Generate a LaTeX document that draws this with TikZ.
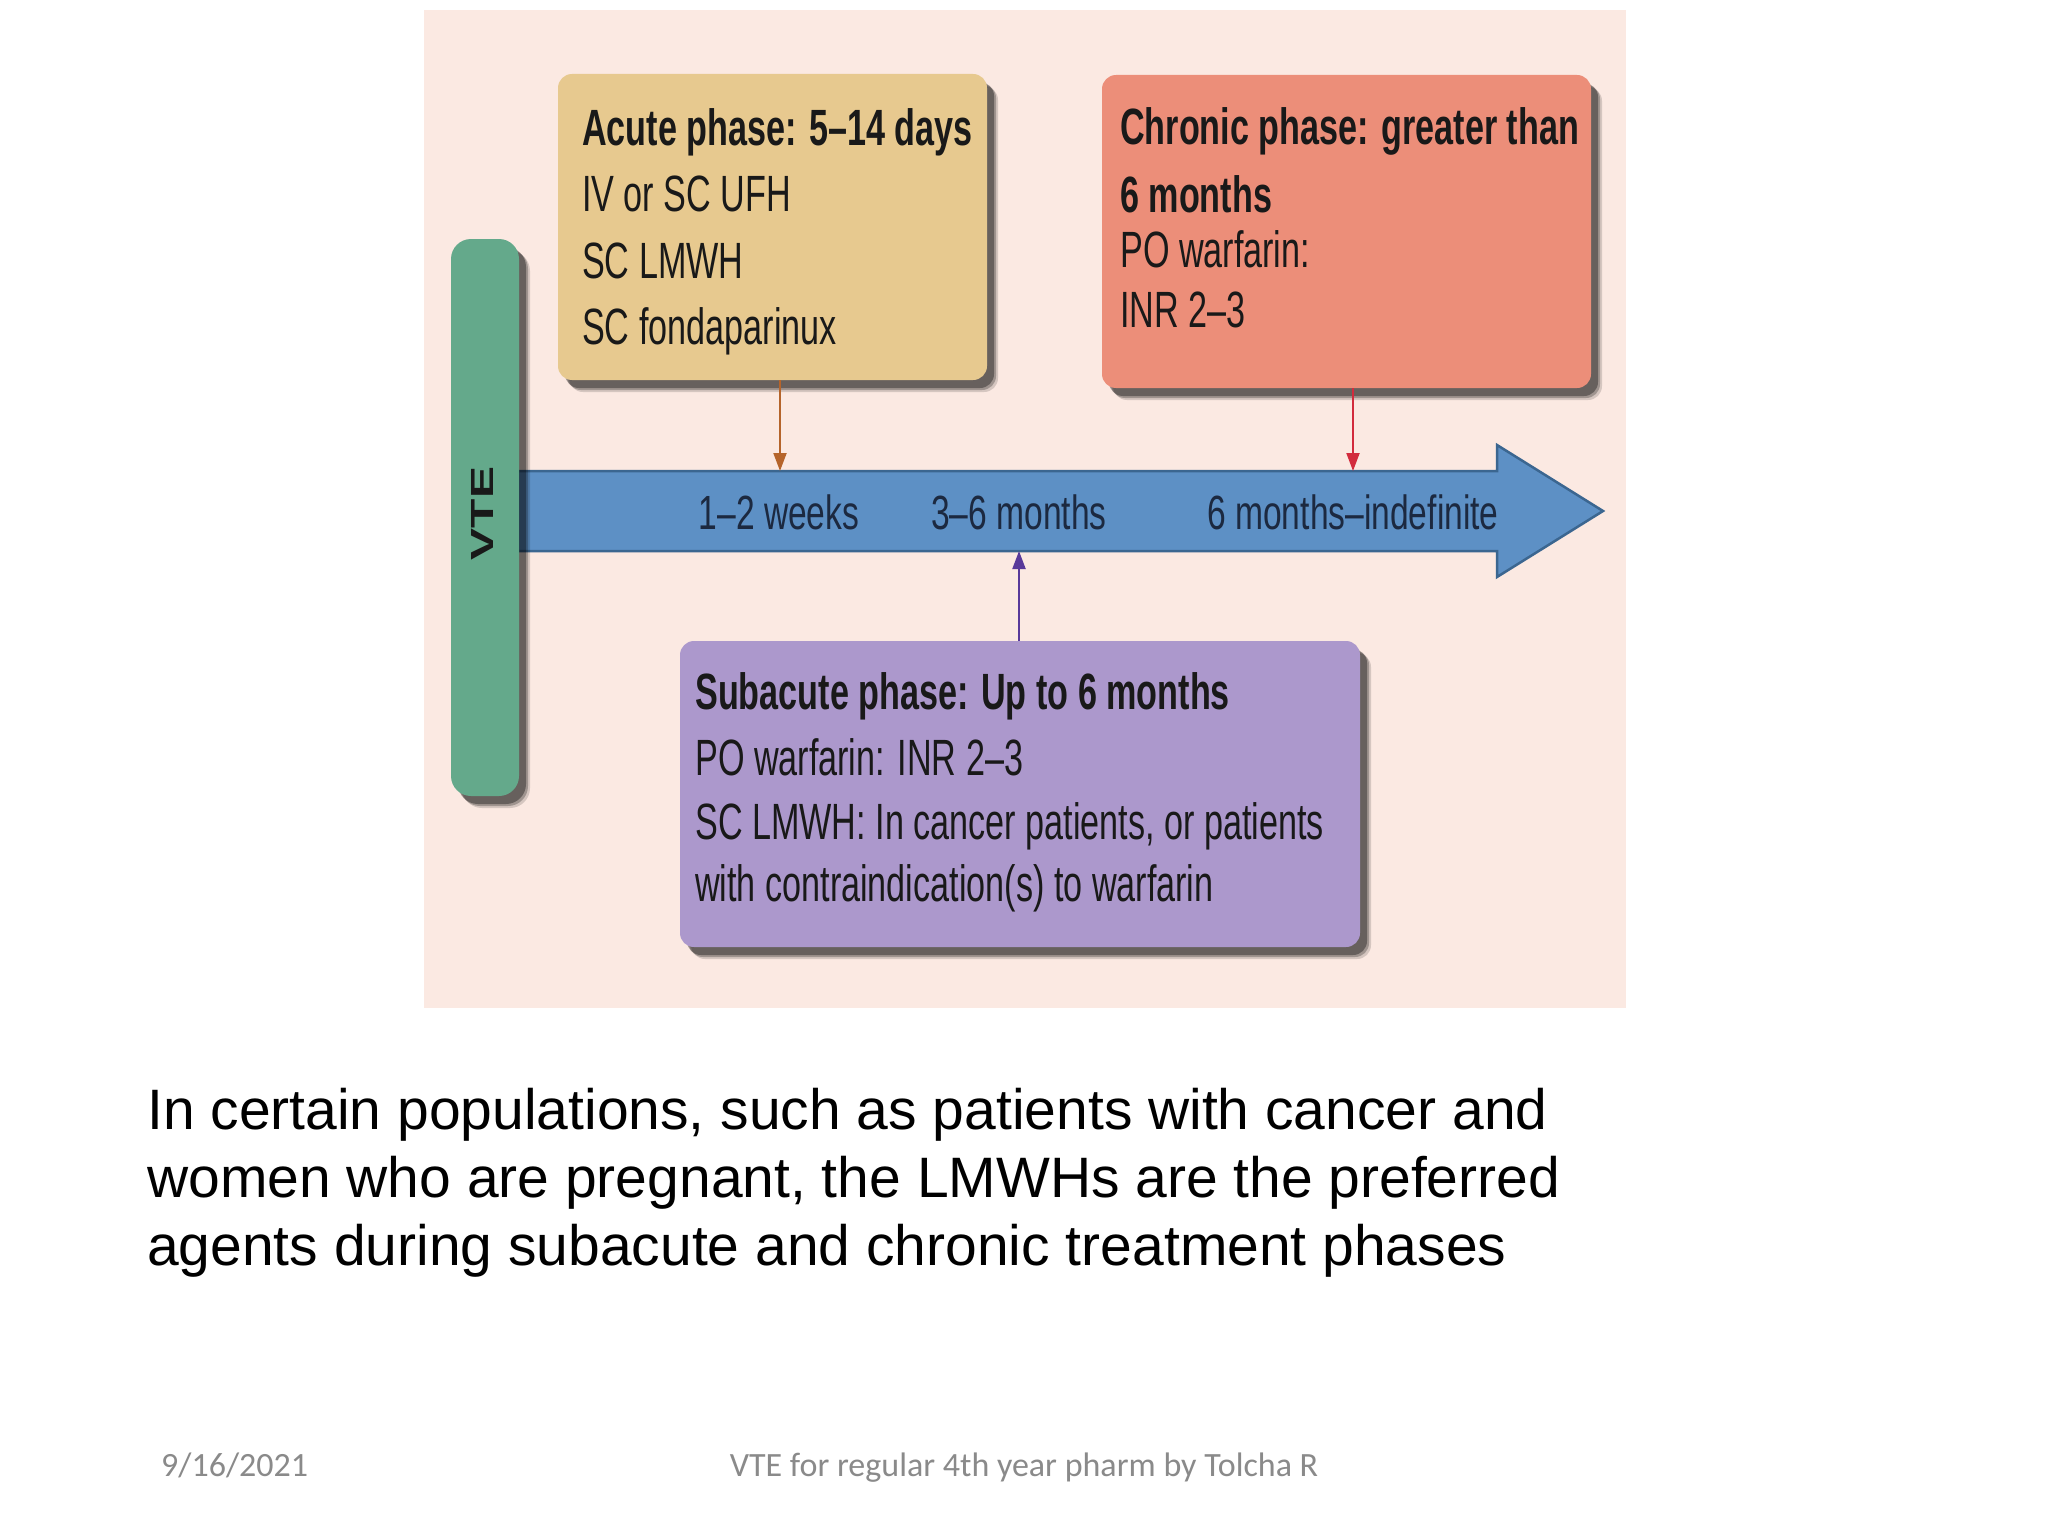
\documentclass[tikz,border=0pt]{standalone}
\usepackage{fontspec}
\setmainfont{Liberation Sans}
\newfontfamily\cond[FakeStretch=0.67]{Liberation Sans}
\newfontfamily\condt[FakeStretch=0.70]{Liberation Sans}
\newfontfamily\widev[FakeStretch=1.5]{Liberation Sans}
\newfontfamily\calib{Carlito}
\usetikzlibrary{arrows.meta,shadows}
\definecolor{bgpink}{HTML}{FBE9E2}
\definecolor{acutec}{HTML}{E7C98F}
\definecolor{chronc}{HTML}{EC8E79}
\definecolor{subc}{HTML}{AC98CC}
\definecolor{vteg}{HTML}{64A98B}
\definecolor{bluea}{HTML}{5D90C5}
\definecolor{blueo}{HTML}{3B6690}
\definecolor{acar}{HTML}{B5642B}
\definecolor{chrar}{HTML}{D22B3D}
\definecolor{suar}{HTML}{58399A}
\definecolor{footc}{HTML}{8A8A8A}
\definecolor{labc}{HTML}{1C2940}
\tikzset{
  softshadow/.style={
    drop shadow={shadow xshift=11pt, shadow yshift=-12pt, opacity=0.15, fill=black},
    drop shadow={shadow xshift=9pt, shadow yshift=-10pt, opacity=0.25, fill=black},
    drop shadow={shadow xshift=7pt, shadow yshift=-8pt, opacity=0.35, fill=black}},
  phasebox/.style={rounded corners=14pt, inner sep=0pt, softshadow},
  boxline/.style={anchor=base west, inner sep=0pt, text=black!90,
    font=\cond\fontsize{51}{60}\selectfont},
  boxhead/.style={boxline, font=\cond\bfseries\fontsize{51}{60}\selectfont},
  timelab/.style={anchor=base, inner sep=0pt, text=labc,
    font=\condt\fontsize{48}{56}\selectfont},
  conn/.style={line width=2pt, -{Triangle[length=18pt,width=13pt]}},
  bodytext/.style={anchor=base west, inner sep=0pt, text=black,
    font=\fontsize{57}{68}\selectfont},
  foottext/.style={inner sep=0pt, text=footc, font=\calib\fontsize{34}{40}\selectfont}
}
\begin{document}
\begin{tikzpicture}[x=1pt,y=-1pt]
\useasboundingbox (0,0) rectangle (2048,1536);
\fill[white] (0,0) rectangle (2048,1536);
% panel
\fill[bgpink] (424,10) rectangle (1626,1008);
% timeline arrow
\draw[fill=bluea, draw=blueo, line width=2.5pt, line join=miter]
  (518,471) -- (1497,471) -- (1497,445) -- (1603,511) -- (1497,577)
  -- (1497,551) -- (518,551) -- cycle;
\coordinate (acutein) at (780,471);
\coordinate (chronin) at (1353,471);
\coordinate (subin) at (1019,551);
% VTE bar
\node[phasebox, rounded corners=20pt, fill=vteg, minimum width=68pt, minimum height=557pt]
  (vte) at (485,517.5) {};
\node[rotate=90, inner sep=0pt, font=\widev\bfseries\fontsize{32}{40}\selectfont, text=black!90]
  (vtelab) at (482.5,513.5) {VTE};
% phase boxes
\node[phasebox, fill=acutec, minimum width=429pt, minimum height=306pt] (acute) at (772.5,227) {};
\node[phasebox, fill=chronc, minimum width=489pt, minimum height=313pt] (chron) at (1346.5,231.5) {};
\node[phasebox, fill=subc, minimum width=680pt, minimum height=306pt] (sub) at (1020,794) {};
% acute text
\node[boxhead] (a1) at (582,146) {Acute phase: 5–14 days};
\node[boxline] (a2) at (582,211) {IV or SC UFH};
\node[boxline] (a3) at (582,278) {SC LMWH};
\node[boxline] (a4) at (582,344) {SC fondaparinux};
% chronic text
\node[boxhead] (c1) at (1120,145) {Chronic phase: greater than};
\node[boxhead] (c2) at (1120,212) {6 months};
\node[boxline] (c3) at (1120,267) {PO warfarin:};
\node[boxline] (c4) at (1120,327) {INR 2–3};
% subacute text
\node[boxhead] (s1) at (695,709) {Subacute phase: Up to 6 months};
\node[boxline] (s2) at (695,775) {PO warfarin: INR 2–3};
\node[boxline] (s3) at (695,839) {SC LMWH: In cancer patients, or patients};
\node[boxline] (s4) at (695,901) {with contraindication(s) to warfarin};
% timeline labels
\node[timelab] (t1) at (779,529) {1–2 weeks};
\node[timelab] (t2) at (1019,529) {3–6 months};
\node[timelab] (t3) at (1353,529) {6 months–indefinite};
% connectors
\draw[conn, acar] (acute.south -| acutein) -- (acutein);
\draw[conn, chrar] (chron.south -| chronin) -- (chronin);
\draw[conn, suar] (sub.north -| subin) -- (subin);
% body text
\node[bodytext] (b1) at (147,1129) {In certain populations, such as patients with cancer and};
\node[bodytext] (b2) at (147,1197) {women who are pregnant, the LMWHs are the preferred};
\node[bodytext] (b3) at (147,1265) {agents during subacute and chronic treatment phases};
% footer
\node[foottext, anchor=base west] (date) at (161,1476) {9/16/2021};
\node[foottext, anchor=base] (title) at (1024,1476) {VTE for regular 4th year pharm by Tolcha R};
\end{tikzpicture}
\end{document}
